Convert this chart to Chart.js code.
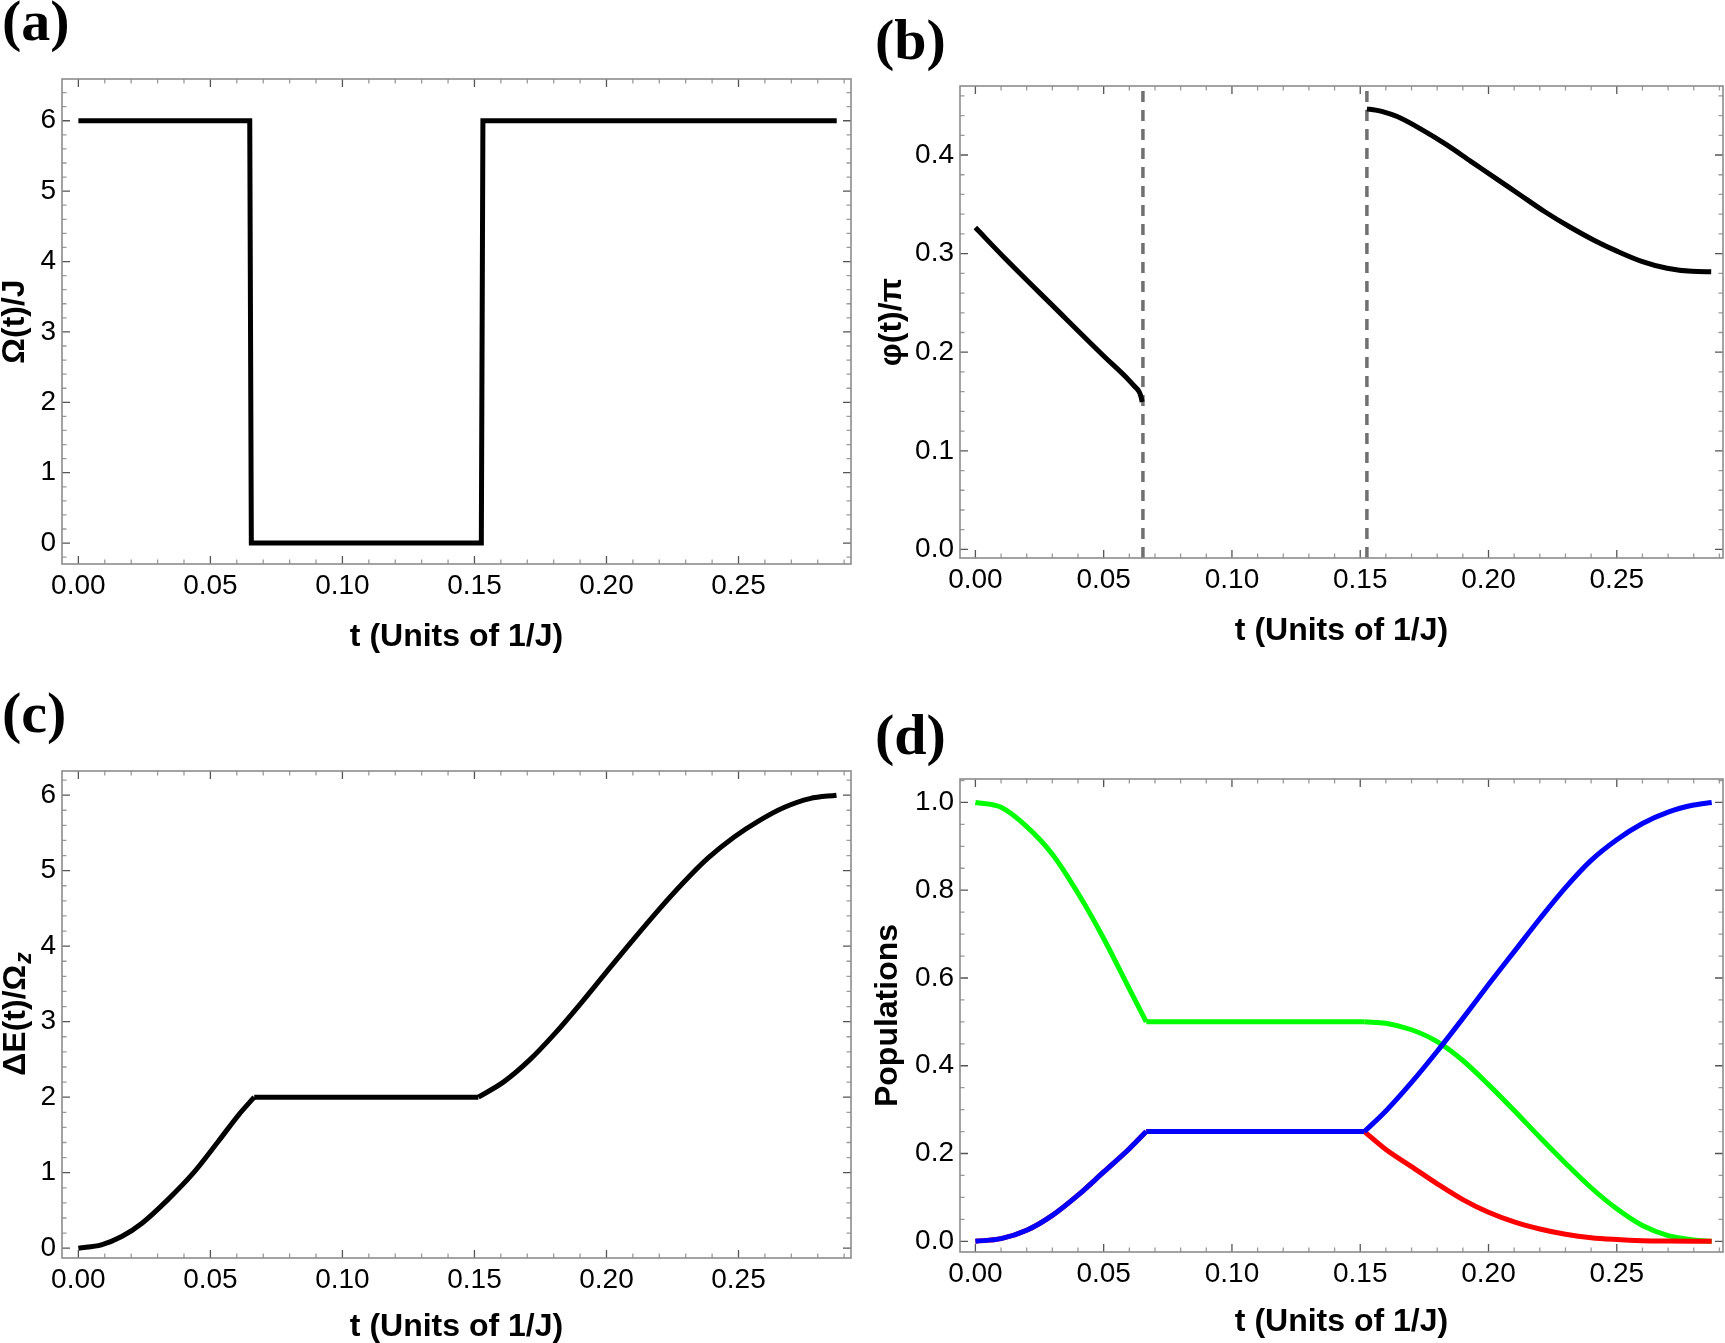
<!DOCTYPE html>
<html>
<head>
<meta charset="utf-8">
<script src="https://cdn.jsdelivr.net/npm/chart.js@4.4.1/dist/chart.umd.min.js"></script>
<style>
  body { margin: 0; background: #fff; width: 1725px; height: 1343px; position: relative; overflow: hidden; }
  canvas { position: absolute; }
  .lbl { position: absolute; font-family: "Liberation Serif", "Times New Roman", serif; font-weight: bold; font-size: 58px; line-height: 1; color: #000; }
</style>
</head>
<body>
<div class="lbl" style="left:2px;top:-8px">(a)</div>
<div class="lbl" style="left:875px;top:11px">(b)</div>
<div class="lbl" style="left:2px;top:684px">(c)</div>
<div class="lbl" style="left:875px;top:706px">(d)</div>
<canvas id="chartA"></canvas>
<canvas id="chartB"></canvas>
<canvas id="chartC"></canvas>
<canvas id="chartD"></canvas>
<script>
// values
const tA = [0, 0.0649, 0.0655, 0.1526, 0.1532, 0.2872];
const omegaA = [6, 6, 0, 0, 6, 6];

const tB1 = [0, 0.0115, 0.0306, 0.0497, 0.0593, 0.0620, 0.0638, 0.0646, 0.0650];
const phiB1 = [0.3264, 0.2953, 0.2460, 0.1970, 0.1732, 0.1655, 0.1600, 0.1545, 0.1495];
const tB2 = [0.1526, 0.1560, 0.1587, 0.1644, 0.1740, 0.1836, 0.1931, 0.2027, 0.2122, 0.2218, 0.2314, 0.2409, 0.2505, 0.2600, 0.2696, 0.2792, 0.2868];
const phiB2 = [0.4468, 0.4455, 0.4440, 0.4390, 0.4258, 0.4105, 0.3936, 0.3766, 0.3597, 0.3427, 0.3275, 0.3139, 0.3020, 0.2919, 0.2851, 0.2820, 0.2817];
const dashB = [0.0653, 0.1526];

const tC = [0, 0.0087, 0.0164, 0.0241, 0.0338, 0.0434, 0.0531, 0.0608, 0.0666, 0.1515, 0.1612, 0.1708, 0.1805, 0.1902, 0.1998, 0.2095, 0.2191, 0.2288, 0.2384, 0.2481, 0.2577, 0.2674, 0.2770, 0.2871];
const dEC = [0, 0.044, 0.154, 0.331, 0.640, 0.990, 1.420, 1.770, 2.0, 2.0, 2.206, 2.490, 2.845, 3.240, 3.650, 4.060, 4.455, 4.830, 5.165, 5.440, 5.660, 5.840, 5.955, 6.0];
const cornersC = [0.0666, 0.1515];

const tD = [0, 0.01, 0.02, 0.03, 0.04, 0.05, 0.06, 0.0666, 0.1516, 0.16, 0.17, 0.18, 0.19, 0.20, 0.21, 0.22, 0.23, 0.24, 0.25, 0.26, 0.27, 0.28, 0.287];
const greenD = [1.0, 0.989, 0.945, 0.882, 0.793, 0.690, 0.575, 0.5, 0.5, 0.497, 0.482, 0.455, 0.412, 0.357, 0.298, 0.237, 0.178, 0.122, 0.074, 0.036, 0.013, 0.003, 0];
const blueD = [0, 0.006, 0.025, 0.059, 0.105, 0.158, 0.211, 0.25, 0.25, 0.297, 0.362, 0.433, 0.508, 0.585, 0.660, 0.735, 0.806, 0.868, 0.915, 0.952, 0.978, 0.994, 1.0];
const redD = [0, 0.006, 0.025, 0.059, 0.105, 0.158, 0.211, 0.25, 0.25, 0.209, 0.170, 0.131, 0.095, 0.066, 0.044, 0.028, 0.016, 0.008, 0.004, 0.0015, 0.0005, 0, 0];
const cornersD = [0.0666, 0.1516];

// ticks
const xTicks = [0, 0.05, 0.10, 0.15, 0.20, 0.25];
const yTicksA = [0, 1, 2, 3, 4, 5, 6];
const yTicksB = [0, 0.1, 0.2, 0.3, 0.4];
const yTicksC = [0, 1, 2, 3, 4, 5, 6];
const yTicksD = [0, 0.2, 0.4, 0.6, 0.8, 1.0];

const sans = '"Liberation Sans", Arial, Helvetica, sans-serif';
const tickFont = { family: sans, size: 28 };
const titleFont = { family: sans, size: 32, weight: 'bold', lineHeight: 1 };

function pts(xs, ys) { return xs.map((x, i) => ({ x: x, y: ys[i] })); }

// cut a curve at its kinks so each smooth piece gets its own spline
function pieces(xs, ys, cuts) {
  const out = [];
  let cur = [];
  xs.forEach((x, i) => {
    cur.push({ x: x, y: ys[i] });
    if (cuts.includes(x) && cur.length > 1) { out.push(cur); cur = [{ x: x, y: ys[i] }]; }
  });
  if (cur.length > 1) out.push(cur);
  return out;
}

// Mathematica style frame with inward ticks on all four sides
const frameTicks = {
  id: 'frameTicks',
  afterDraw(chart, args, o) {
    const { ctx, chartArea: a, scales } = chart;
    const x = scales.x, y = scales.y;
    function list(min, max, step, major) {
      const out = [];
      for (let k = Math.ceil(min / step - 1e-9); k * step <= max + 1e-9; k++) {
        const v = k * step;
        const isMajor = Math.abs(v / major - Math.round(v / major)) < 1e-6;
        out.push({ v: v, major: isMajor });
      }
      return out;
    }
    ctx.save();
    ctx.lineWidth = 1.3;
    list(x.min, x.max, 0.01, 0.05).forEach(t => {
      const p = x.getPixelForValue(t.v), len = t.major ? 8 : 4.5;
      ctx.strokeStyle = t.major ? '#555' : '#9a9a9a';
      ctx.beginPath();
      ctx.moveTo(p, a.bottom); ctx.lineTo(p, a.bottom - len);
      ctx.moveTo(p, a.top); ctx.lineTo(p, a.top + len);
      ctx.stroke();
    });
    list(y.min, y.max, o.yMinor, o.yMajor).forEach(t => {
      const p = y.getPixelForValue(t.v), len = t.major ? 8 : 4.5;
      ctx.strokeStyle = t.major ? '#555' : '#9a9a9a';
      ctx.beginPath();
      ctx.moveTo(a.left, p); ctx.lineTo(a.left + len, p);
      ctx.moveTo(a.right, p); ctx.lineTo(a.right - len, p);
      ctx.stroke();
    });
    ctx.strokeStyle = '#8c8c8c';
    ctx.lineWidth = 1.6;
    ctx.strokeRect(a.left, a.top, a.right - a.left, a.bottom - a.top);
    ctx.restore();
  }
};

function makePanel(id, box, plot, xr, yr, yTicks, yFmt, yMajor, yMinor, xTitleY, yTitleX, yTitle, datasets, extra) {
  const cv = document.getElementById(id);
  cv.width = box.w; cv.height = box.h;
  cv.style.left = box.x + 'px'; cv.style.top = box.y + 'px';
  const xH = box.y + box.h - plot.b;
  const yW = plot.l - box.x;
  return new Chart(cv, {
    type: 'line',
    data: { datasets: datasets },
    options: {
      responsive: false,
      animation: false,
      devicePixelRatio: 1,
      layout: { padding: { left: 0, top: plot.t - box.y, right: box.x + box.w - plot.r, bottom: 0 } },
      plugins: {
        legend: { display: false },
        tooltip: { enabled: false },
        frameTicks: { yMajor: yMajor, yMinor: yMinor }
      },
      elements: { point: { radius: 0 }, line: { tension: 0, borderJoinStyle: 'miter', borderCapStyle: 'butt' } },
      scales: {
        x: {
          type: 'linear', min: xr[0], max: xr[1],
          grid: { display: false, drawTicks: false },
          border: { display: false },
          afterBuildTicks: s => { s.ticks = xTicks.map(v => ({ value: v })); },
          afterFit: s => { s.height = xH; },
          ticks: { font: tickFont, color: '#000', padding: 5, autoSkip: false, maxRotation: 0, callback: v => v.toFixed(2) },
          title: { display: true, text: 't (Units of 1/J)', font: titleFont, color: '#000',
                   padding: { top: 0, bottom: box.y + box.h - xTitleY - 16 } }
        },
        y: {
          type: 'linear', min: yr[0], max: yr[1],
          grid: { display: false, drawTicks: false },
          border: { display: false },
          afterBuildTicks: s => { s.ticks = yTicks.map(v => ({ value: v })); },
          afterFit: s => { s.width = yW; },
          ticks: { font: tickFont, color: '#000', padding: 6, autoSkip: false, callback: yFmt },
          title: { display: yTitle !== null, text: yTitle || '', font: titleFont, color: '#000',
                   padding: { top: yTitleX - box.x - 16, bottom: 0 } }
        }
      }
    },
    plugins: [frameTicks].concat(extra || [])
  });
}

const LW = 5;
const curve = (data, color) => ({ data: data, borderColor: color, borderWidth: LW, fill: false, cubicInterpolationMode: 'monotone' });
const straight = (data, color) => ({ data: data, borderColor: color, borderWidth: LW, fill: false });

// (a)
makePanel('chartA', { x: -12, y: 0, w: 874, h: 668 }, { l: 62, t: 79, r: 851, b: 564 },
  [-0.0062, 0.2926], [-0.297, 6.593], yTicksA, v => String(v), 1, 0.2,
  637, 15, 'Ω(t)/J',
  [straight(pts(tA, omegaA), '#000')]);

// (b)
const bY = [-0.0087, 0.470];
makePanel('chartB', { x: 862, y: 0, w: 863, h: 668 }, { l: 960, t: 86, r: 1723, b: 558 },
  [-0.006, 0.2914], bY, yTicksB, v => v.toFixed(1), 0.1, 0.02,
  631, 892, 'φ(t)/π',
  [curve(pts(tB1, phiB1), '#000'), curve(pts(tB2, phiB2), '#000')].concat(
    dashB.map(d => ({ data: [{ x: d, y: bY[0] }, { x: d, y: bY[1] }], borderColor: '#707070', borderWidth: 3.5, borderDash: [11, 8], fill: false }))
  ));

// (c) y title with subscript drawn on the canvas
const boxC = { x: -12, y: 668, w: 874, h: 675 };
const deltaTitle = {
  id: 'deltaTitle',
  afterDraw(chart) {
    const { ctx, chartArea: a } = chart;
    const cx = 16 - boxC.x, cy = (a.top + a.bottom) / 2;
    const mainFont = 'bold 32px ' + sans, subFont = 'italic bold 23px ' + sans;
    ctx.save();
    ctx.translate(cx, cy);
    ctx.rotate(-Math.PI / 2);
    ctx.fillStyle = '#000';
    ctx.textBaseline = 'middle';
    ctx.textAlign = 'left';
    ctx.font = mainFont;
    const w1 = ctx.measureText('ΔE(t)/Ω').width;
    ctx.font = subFont;
    const w2 = ctx.measureText('z').width;
    const start = -(w1 + w2) / 2;
    ctx.font = mainFont;
    ctx.fillText('ΔE(t)/Ω', start, 0);
    ctx.font = subFont;
    ctx.fillText('z', start + w1 + 1, 9);
    ctx.restore();
  }
};
makePanel('chartC', boxC, { l: 62, t: 771, r: 851, b: 1258 },
  [-0.0062, 0.2926], [-0.13, 6.32], yTicksC, v => String(v), 1, 0.2,
  1327, 16, null,
  pieces(tC, dEC, cornersC).map(p => curve(p, '#000')), [deltaTitle]);

// (d) blue drawn on top of red, red on top of green
makePanel('chartD', { x: 862, y: 668, w: 863, h: 675 }, { l: 960, t: 779, r: 1723, b: 1252 },
  [-0.006, 0.2914], [-0.0244, 1.0534], yTicksD, v => v.toFixed(1), 0.2, 0.05,
  1322, 888, 'Populations',
  [].concat(
    pieces(tD, blueD, cornersD).map(p => curve(p, '#0000ff')),
    pieces(tD, redD, cornersD).map(p => curve(p, '#ff0000')),
    pieces(tD, greenD, cornersD).map(p => curve(p, '#00ff00'))
  ));
</script>
</body>
</html>
